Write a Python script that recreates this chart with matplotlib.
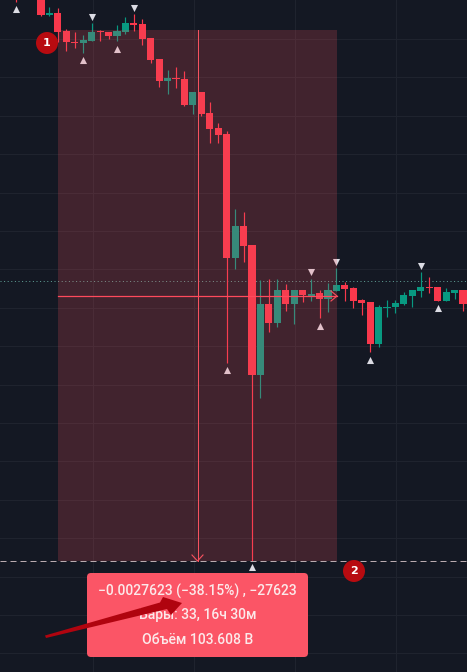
import numpy as np
import matplotlib
matplotlib.use("Agg")
import matplotlib.pyplot as plt
from matplotlib.patches import FancyBboxPatch, Polygon, Circle, Rectangle

plt.rcParams['font.family'] = ['Roboto', 'DejaVu Sans']

first_bar = -3
open_ = [-8, np.nan, np.nan, -15, 15, 13, 31, 41.5, 43, 41, 31, 32, 36, 32, 23, 24, 38, 59, 81, 78, 79, 105, 92, 113,
         128, 134, 258, 226, 245, 375, 304, 323, 290, 304, 290, 295.5, 293, 299, 291, 285, 288, 300, 302, 344,
         307.5, 307, 304, 296, 291, 287, 287, 301, 293, 290]
high = [-10, np.nan, np.nan, -20, 7, 8, 29, 32, 35, 23, 30, 32, 25, 17, 14, 19, 38, 59, 70, 67, 71, 92, 92, 102,
        123, 131, 209, 212, 245, 280, 279, 279, 284, 290, 290, 279, 290, 283, 268, 282, 287, 299, 302, 305,
        300, 300, 292, 290, 272, 277, 287, 288, 290, 290]
low = [2, np.nan, np.nan, 16, 16, 42, 51, 48, 53, 41, 41, 39, 41, 34, 31, 45, 63, 87, 94, 88, 106, 114, 116, 143,
       143, 363, 269, 262, 561, 398, 332, 327, 311, 324, 302, 301, 318, 312, 291, 301, 308, 315, 352, 347,
       317, 313, 305, 307, 297, 293, 301, 301, 299, 311]
close = [-4, np.nan, np.nan, 15, 13, 32, 42, 42.5, 40, 32, 32, 36, 31, 23, 24.5, 39, 60, 81, 78, 79, 105, 92, 114, 129,
         135, 258, 226, 246, 375, 304, 323, 290, 304, 290, 295, 294, 299, 290, 285, 289, 301, 303, 344, 307,
         307, 303, 295, 290, 287, 288, 301, 292, 290, 304]

# Pivot markers: bar, level
pivot_up_bars = [-3, 5, 9, 22, 25, 33, 39, 47]
pivot_up_levels = [9, 60, 49, 370, 567, 326, 360, 308]
pivot_down_bars = [6, 11, 32, 35, 45]
pivot_down_levels = [17, 8, 272, 262, 266]

last_price_level = 280.5
tooltip_lines = ["−0.0027623 (−38.15%) , −27623", "Бары: 33, 16ч 30м", "Объём 103.608 B"]

BG = "#141823"
GRID = "#1f232e"
RED = "#f8384c"
GREEN = "#089981"
PINK = "#f7525f"
PX = 0.72

W, H = 467, 672
fig = plt.figure(figsize=(W / 100, H / 100), dpi=100, facecolor=BG)
ax = fig.add_axes([0, 0, 1, 1], facecolor=BG)
bar_step, bar0_px = 8.44, 41.0
ax.set_xlim(-bar0_px / bar_step, (W - bar0_px) / bar_step)
ax.set_ylim(H, 0)
ax.axis("off")

bars = first_bar + np.arange(len(open_))
o, h, l, c = map(np.array, (open_, high, low, close))
valid = ~np.isnan(o)
bars, o, h, l, c = bars[valid], o[valid], h[valid], l[valid], c[valid]
colors = [GREEN if ci < oi else RED for oi, ci in zip(o, c)]

# grid
for px in (92.5, 193.5, 294.5, 395.5):
    ax.axvline((px - bar0_px) / bar_step, color=GRID, lw=PX, zorder=1)
for py in 38.5 + 38.4 * np.arange(17):
    ax.axhline(round(py - 0.5) + 0.5, color=GRID, lw=PX, zorder=1)

ax.axhline(last_price_level, color="#5f9e94", lw=PX, ls=(0, (1, 2.6)), zorder=1.5)
ax.vlines(bars, h, l, colors=colors, lw=0.85, zorder=2)
ax.bar(bars, np.abs(c - o), bottom=np.minimum(o, c), width=0.84, color=colors, lw=0, zorder=3)
ax.scatter(pivot_up_bars, pivot_up_levels, marker="^", s=26, color="#dcdce4", lw=0, zorder=4)
ax.scatter(pivot_down_bars, pivot_down_levels, marker="v", s=26, color="#dcdce4", lw=0, zorder=4)

# Overlay in pixel coordinates
ov = fig.add_axes([0, 0, 1, 1], facecolor="none")
ov.set_xlim(0, W)
ov.set_ylim(H, 0)
ov.axis("off")

ov.add_patch(Rectangle((58, 30), 279, 531, facecolor=PINK, alpha=0.2, lw=0, zorder=1))
ov.plot([197.5, 197.5], [30, 561], color=PINK, lw=PX, zorder=2)
ov.plot([58, 337], [296, 296], color="#ff4a5c", lw=0.9, zorder=2)
ov.plot([192, 197.5, 203], [555, 561, 555], color=PINK, lw=0.8, zorder=2)
ov.plot([331, 337, 331], [291, 296, 301], color=PINK, lw=0.8, zorder=2)
ov.plot([0, W], [560.5, 560.5], color="#b9abb0", lw=PX, ls=(0, (6, 4)), zorder=2)

ov.add_patch(FancyBboxPatch((87, 573), 221, 84, boxstyle="round,pad=0,rounding_size=4",
                            facecolor="#fb5566", lw=0, zorder=5))
for txt, y in zip(tooltip_lines, (591.5, 615.5, 639.5)):
    ov.text(197.5, y, txt, color="#fbe9ea", fontsize=10, fontweight="medium", ha="center", va="center", zorder=6)

ov.add_patch(Polygon([(45, 635.5), (160, 602.5), (163, 597), (182, 603), (171, 615), (167, 609), (46, 638)],
                     closed=True, facecolor="#b0040f", lw=0, zorder=7))

for (cx, cy, s) in ((47, 43, "1"), (354, 571, "2")):
    ov.add_patch(Circle((cx, cy), 11, facecolor="#b80b10", lw=0, zorder=8))
    ov.text(cx, cy + 0.3, s, color="white", fontsize=8, fontweight="bold", ha="center", va="center",
            family="DejaVu Sans", zorder=9)

fig.savefig("out.png", dpi=100, facecolor=BG)
